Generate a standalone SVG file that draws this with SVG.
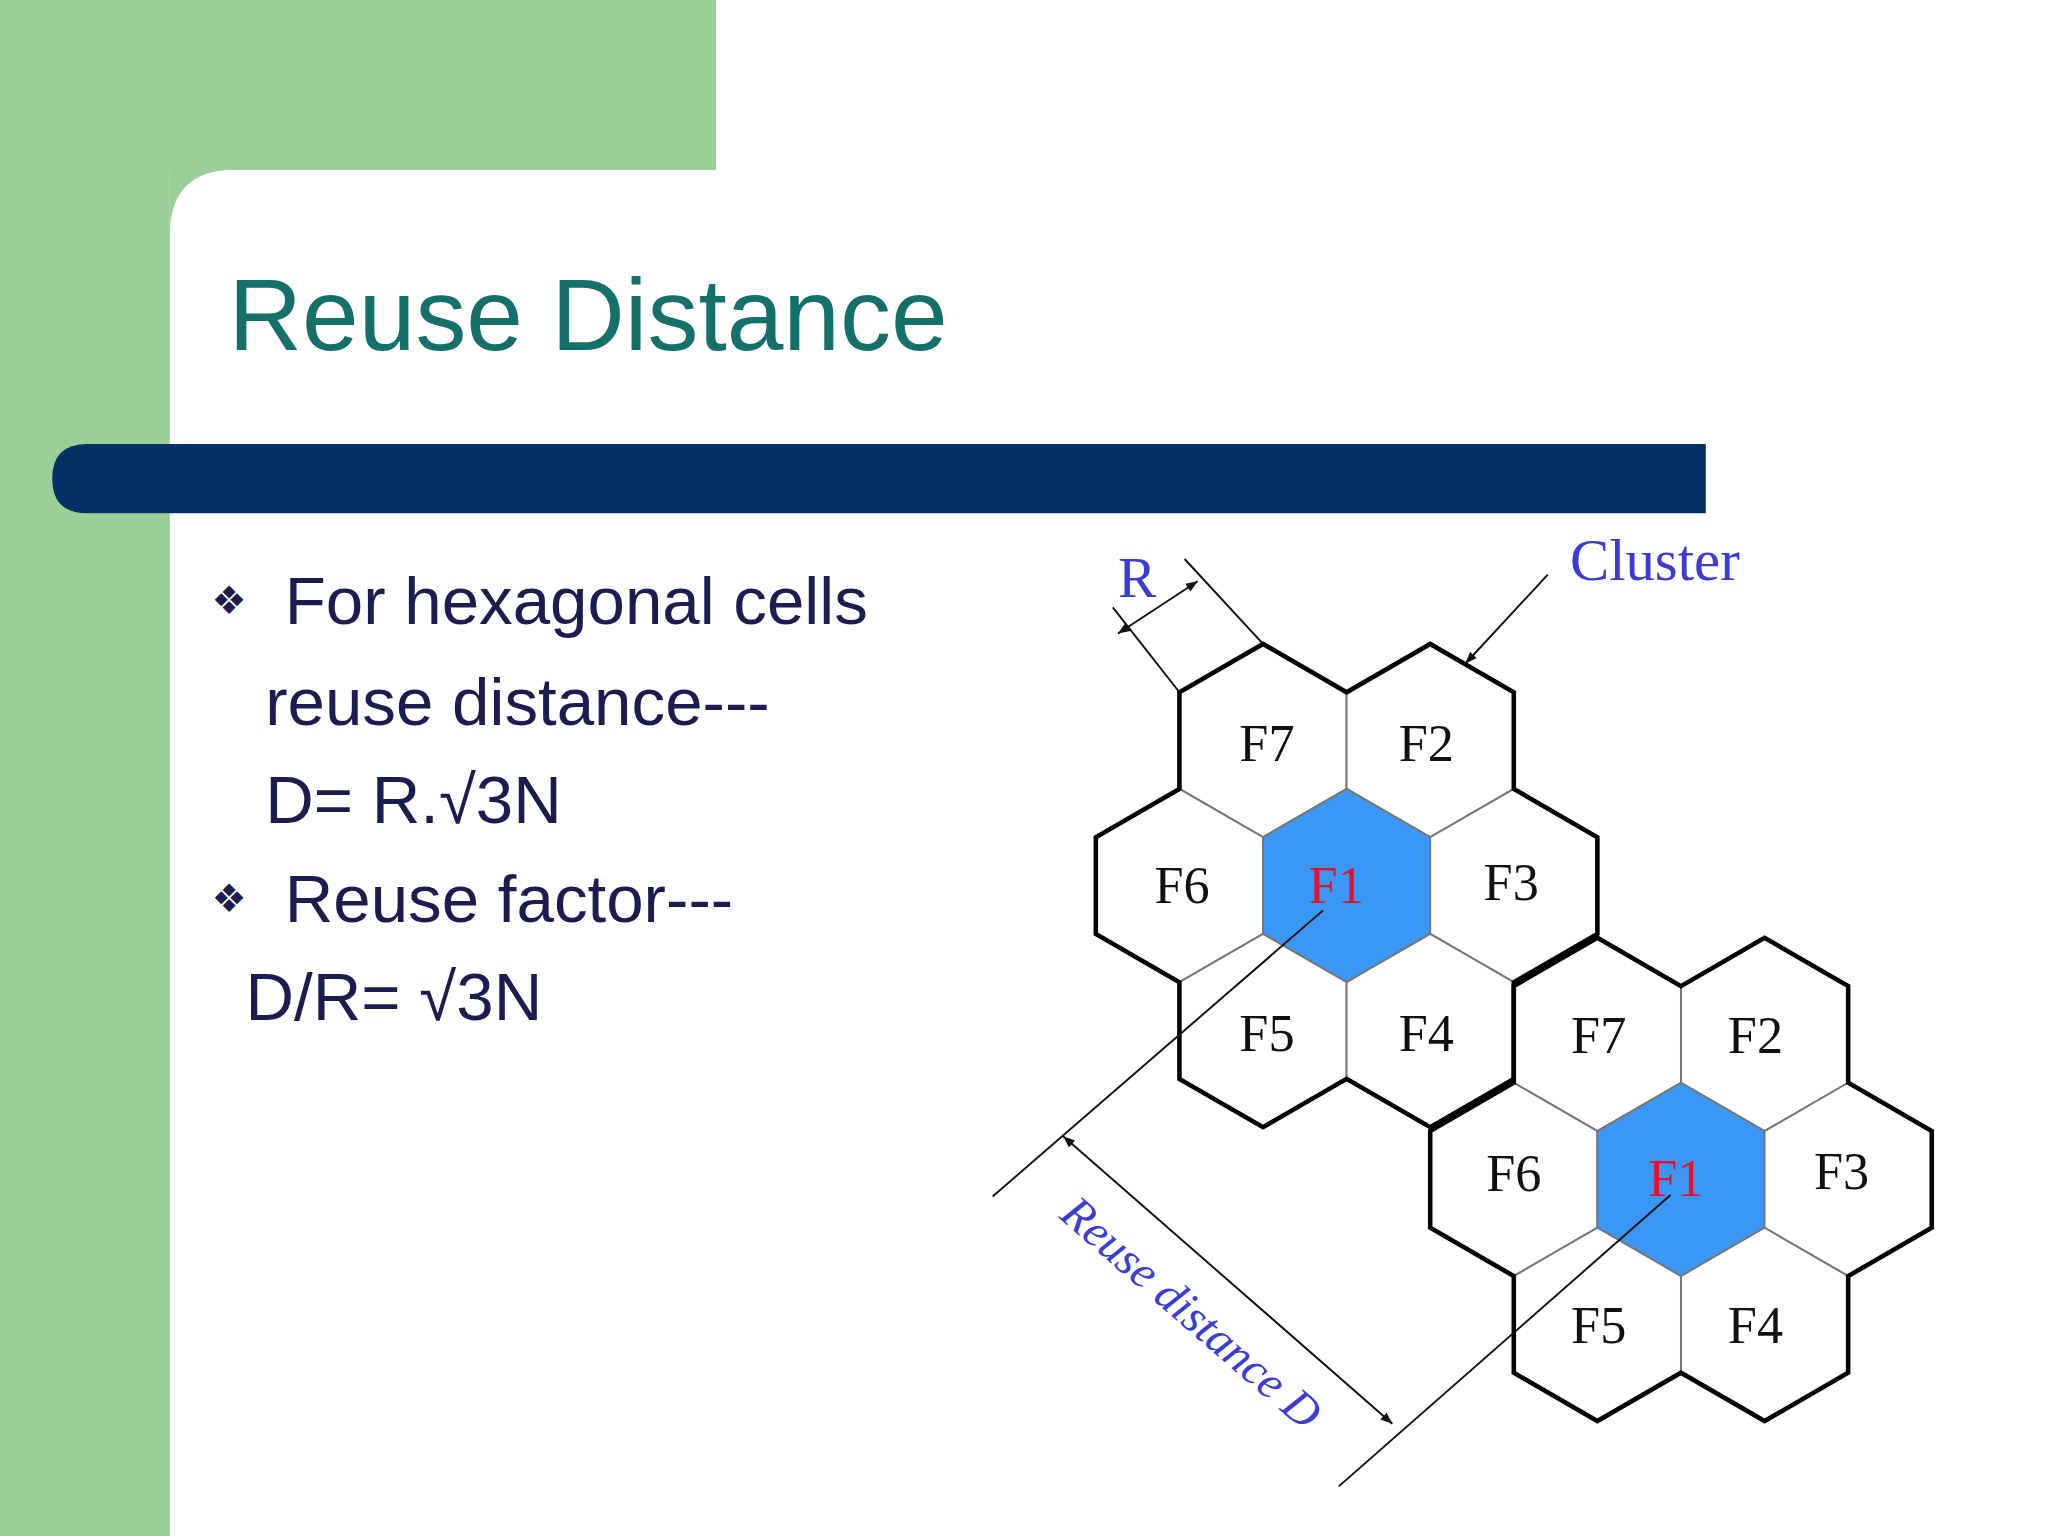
<svg xmlns="http://www.w3.org/2000/svg" width="2048" height="1536" viewBox="0 0 2048 1536">
<defs>
<style>
.hex{fill:#fff;stroke:#777;stroke-width:1.5}
.blue{fill:#3a97f5}
.out{fill:none;stroke:#000;stroke-width:3.5;stroke-linejoin:miter}
.lab{font-family:"Liberation Serif",serif;font-size:40px;fill:#111;text-anchor:middle}
.red{fill:#e8102a}
.dim{stroke:#111;stroke-width:1.5;fill:none}
.body{font-family:"Liberation Sans",Arial,sans-serif;font-size:51.5px;fill:#1c1c50}
.bl{font-family:"Liberation Serif",serif;fill:#3b3bd6}
</style>
<marker id="ah" viewBox="0 0 10 10" refX="10" refY="5" markerWidth="9" markerHeight="9" orient="auto-start-reverse" markerUnits="userSpaceOnUse"><path d="M0,1 L10,5 L0,9 z" fill="#111"/></marker>
<path id="h" d="M0,-74 L64,-37 L64,37 L0,74 L-64,37 L-64,-37 Z"/>
</defs>
<rect width="2048" height="1536" fill="#fff"/>
<g transform="scale(1.30612)">
<rect x="0" y="0" width="548" height="130" fill="#9bcf98"/>
<rect x="0" y="0" width="130" height="1176" fill="#9bcf98"/>
<path d="M130,1176 L130,180 Q130,130 180,130 L548,130 L548,0 L130,0 Z" fill="#9bcf98"/>
<text x="175" y="268" font-family="'Liberation Sans',Arial,sans-serif" font-size="78" fill="#15706a">Reuse Distance</text>
<path d="M67,340 L1306,340 L1306,393 L67,393 Q40,393 40,366.5 Q40,340 67,340 Z" fill="#043163"/>
<g id="text">
<text x="162" y="470" font-family="'DejaVu Sans',sans-serif" font-size="30" fill="#1c1c50">❖</text>
<text x="218" y="478" class="body">For hexagonal cells</text>
<text x="203" y="555" class="body">reuse distance---</text>
<text x="203" y="630" class="body">D= R.√3N</text>
<text x="162" y="698" font-family="'DejaVu Sans',sans-serif" font-size="30" fill="#1c1c50">❖</text>
<text x="218" y="706" class="body">Reuse factor---</text>
<text x="188" y="781" class="body">D/R= √3N</text>
</g>
<g id="cluster1" transform="translate(1031,678)">
<use href="#h" class="hex" x="-64" y="-111"/><use href="#h" class="hex" x="64" y="-111"/>
<use href="#h" class="hex" x="-128" y="0"/><use href="#h" class="hex blue" x="0" y="0"/><use href="#h" class="hex" x="128" y="0"/>
<use href="#h" class="hex" x="-64" y="111"/><use href="#h" class="hex" x="64" y="111"/>
<path class="out" d="M-64,-185 L0,-148 L64,-185 L128,-148 L128,-74 L192,-37 L192,37 L128,74 L128,148 L64,185 L0,148 L-64,185 L-128,148 L-128,74 L-192,37 L-192,-37 L-128,-74 L-128,-148 Z"/>
<text class="lab" x="-61" y="-95">F7</text><text class="lab" x="61" y="-95">F2</text>
<text class="lab" x="-126" y="13">F6</text><text class="lab red" x="-8" y="13">F1</text><text class="lab" x="126" y="11">F3</text>
<text class="lab" x="-61" y="127">F5</text><text class="lab" x="61" y="127">F4</text>
</g>
<g id="cluster2" transform="translate(1287,903)">
<use href="#h" class="hex" x="-64" y="-111"/><use href="#h" class="hex" x="64" y="-111"/>
<use href="#h" class="hex" x="-128" y="0"/><use href="#h" class="hex blue" x="0" y="0"/><use href="#h" class="hex" x="128" y="0"/>
<use href="#h" class="hex" x="-64" y="111"/><use href="#h" class="hex" x="64" y="111"/>
<path class="out" d="M-64,-185 L0,-148 L64,-185 L128,-148 L128,-74 L192,-37 L192,37 L128,74 L128,148 L64,185 L0,148 L-64,185 L-128,148 L-128,74 L-192,37 L-192,-37 L-128,-74 L-128,-148 Z"/>
<text class="lab" x="-63" y="-97">F7</text><text class="lab" x="57" y="-97">F2</text>
<text class="lab" x="-128" y="9">F6</text><text class="lab red" x="-4" y="13">F1</text><text class="lab" x="123" y="7">F3</text>
<text class="lab" x="-63" y="125">F5</text><text class="lab" x="57" y="125">F4</text>
</g>
<g id="connectors">
<line class="dim" x1="903" y1="530" x2="852" y2="465"/>
<line class="dim" x1="967" y1="493" x2="907" y2="428"/>
<line class="dim" x1="856" y1="485" x2="917" y2="445" marker-start="url(#ah)" marker-end="url(#ah)"/>
<line class="dim" x1="1185" y1="440" x2="1122" y2="508" marker-end="url(#ah)"/>
<line class="dim" x1="1013" y1="697" x2="760" y2="916"/>
<line class="dim" x1="1279" y1="915" x2="1025" y2="1138"/>
<line class="dim" x1="814" y1="870" x2="1066" y2="1090" marker-start="url(#ah)" marker-end="url(#ah)"/>
</g>
<text class="bl" x="856" y="457" font-size="44">R</text>
<text class="bl" x="1202" y="444" font-size="45">Cluster</text>
<text class="bl" x="0" y="0" font-size="36" font-style="italic" transform="translate(810,932) rotate(41)">Reuse distance D</text>
</g>
</svg>
